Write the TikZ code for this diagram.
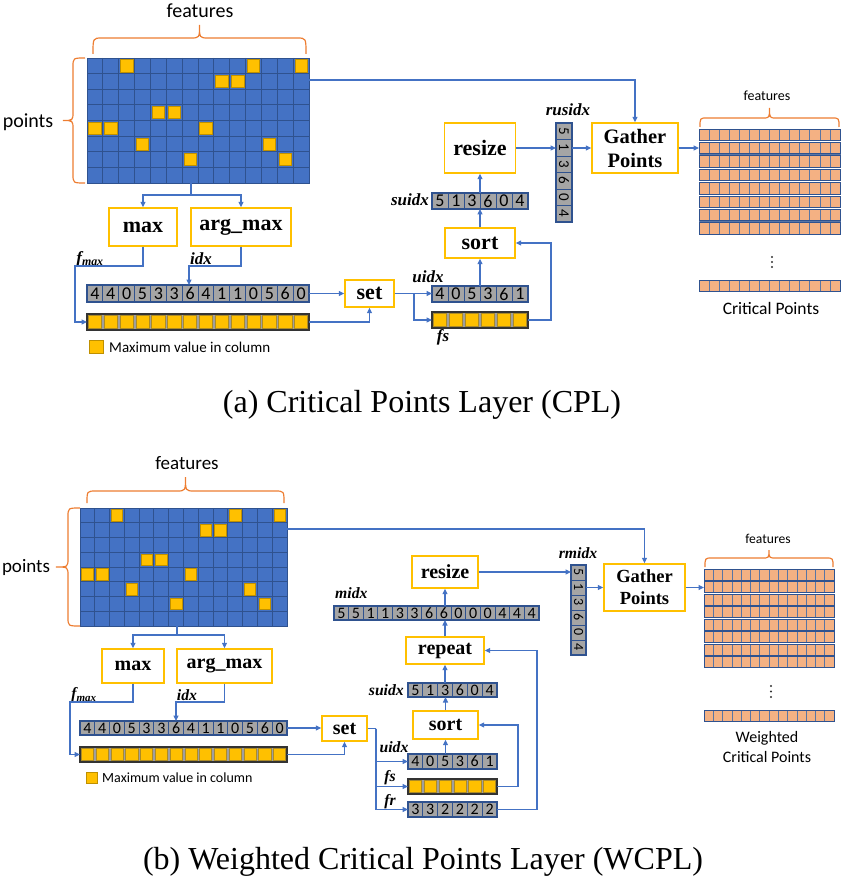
\documentclass[tikz,border=0pt]{standalone}
\usepackage{fontspec}
\setmainfont{Liberation Serif}
\newfontfamily\calib{Carlito}
\usetikzlibrary{arrows.meta,fit,calc}

\definecolor{blueC}{HTML}{4472C4}
\definecolor{blueD}{HTML}{2F528F}
\definecolor{gold}{HTML}{FFC000}
\definecolor{goldD}{HTML}{BF9000}
\definecolor{grayC}{HTML}{A5A5A5}
\definecolor{salmon}{HTML}{F4B183}
\definecolor{orangeC}{HTML}{ED7D31}
\definecolor{lineC}{HTML}{4472C4}

\newcommand\FS[1]{\fontsize{#1}{#1}\selectfont}

\tikzset{
  conn/.style={draw=lineC, line width=1.1pt},
  arr/.style={conn, -{Triangle[length=5.5pt,width=5pt]}},
  opbox/.style={draw=gold, line width=1.4pt, fill=white, inner sep=0pt, align=center, font=\bfseries\FS{#1}},
  sz/.style 2 args={minimum width=#1pt, minimum height=#2pt},
  txt/.style={inner sep=0pt, font=\calib\FS{#1}},
  mlab/.style={inner sep=0pt, font=\bfseries\itshape\FS{#1}},
  captext/.style={inner sep=0pt, font=\FS{32}},
  graycell/.style={draw=blueD, line width=0.9pt, fill=grayC},
  yelcell/.style={draw=goldD!70!gray, line width=0.6pt, fill=gold},
  salcell/.style={draw=blueD!80, line width=0.7pt, fill=salmon},
  arrout/.style={draw=blueD, line width=1.2pt},
  bracestyle/.style={draw=orangeC, line width=1.2pt},
}

% grid: name xl yt xr yb idxlist
\newcommand\Grid[6]{%
  \node[fit={(#2,#3) (#4,#5)}, inner sep=0pt, outer sep=0pt] (#1) {};
  \pgfmathsetmacro\myw{(#4-#2)/14}%
  \pgfmathsetmacro\myh{(#5-#3)/8}%
  \fill[blueC] (#2,#3) rectangle (#4,#5);
  \foreach \i in {1,...,13}{\draw[blueD, line width=0.9pt] ({#2+\i*\myw},#3) -- ({#2+\i*\myw},#5);}
  \foreach \j in {1,...,7}{\draw[blueD, line width=0.9pt] (#2,{#3+\j*\myh}) -- (#4,{#3+\j*\myh});}
  \draw[blueD, line width=0.9pt] (#2,#3) rectangle (#4,#5);
  \foreach \r [count=\c from 0] in {#6}{%
    \draw[draw=goldD, fill=gold, line width=0.6pt] ({#2+\c*\myw+1.7},{#3+\r*\myh+1.7}) rectangle ({#2+(\c+1)*\myw-1.7},{#3+(\r+1)*\myh-1.7});}
}
% digit array: name xl yt xr yb n digits fontsize
\newcommand\DigArr[8]{%
  \node[fit={(#2,#3) (#4,#5)}, inner sep=0pt, outer sep=0pt] (#1) {};
  \pgfmathsetmacro\myw{(#4-#2)/#6}%
  \foreach \d [count=\i from 0] in {#7}{%
    \draw[graycell] ({#2+\i*\myw},#3) rectangle ({#2+(\i+1)*\myw},#5);
    \node[txt=#8] at ({#2+(\i+0.5)*\myw},{(#3+#5)/2}) {\d};}
  \draw[arrout] (#2,#3) rectangle (#4,#5);
}
% empty yellow array: name xl yt xr yb n
\newcommand\YelArr[6]{%
  \node[fit={(#2,#3) (#4,#5)}, inner sep=0pt, outer sep=0pt] (#1) {};
  \pgfmathsetmacro\myw{(#4-#2)/#6}%
  \fill[gray!75] (#2,#3) rectangle (#4,#5);
  \foreach \i in {1,...,#6}{%
    \draw[yelcell] ({#2+(\i-1)*\myw+1.3},{#3+1.3}) rectangle ({#2+\i*\myw-1.3},{#5-1.3});}
  \draw[draw=gray!40!black, line width=1.2pt] (#2,#3) rectangle (#4,#5);
}
% vertical digit array: name xl yt xr yb n digits fontsize
\newcommand\VArr[8]{%
  \node[fit={(#2,#3) (#4,#5)}, inner sep=0pt, outer sep=0pt] (#1) {};
  \pgfmathsetmacro\myh{(#5-#3)/#6}%
  \foreach \d [count=\i from 0] in {#7}{%
    \draw[graycell] (#2,{#3+\i*\myh}) rectangle (#4,{#3+(\i+1)*\myh});
    \node[txt=#8, rotate=-90] at ({(#2+#4)/2},{#3+(\i+0.5)*\myh}) {\d};}
  \draw[arrout] (#2,#3) rectangle (#4,#5);
}
% critical rows: name xl yt xr rowh pitch lasty
\newcommand\CritRows[7]{%
  \pgfmathsetmacro\myw{(#4-#2)/14}%
  \foreach \r in {0,...,7}{%
    \pgfmathsetmacro\yy{#3+\r*#6}%
    \foreach \i in {0,...,13}{\draw[salcell] ({#2+\i*\myw},\yy) rectangle ({#2+(\i+1)*\myw},{\yy+#5});}
    \draw[blueD, line width=0.9pt] (#2,\yy) rectangle (#4,{\yy+#5});}
  \foreach \i in {0,...,13}{\draw[salcell] ({#2+\i*\myw},#7) rectangle ({#2+(\i+1)*\myw},{#7+#5});}
  \draw[blueD, line width=0.9pt] (#2,#7) rectangle (#4,{#7+#5});
  \node[fit={(#2,#3) (#4,{#7+#5})}, inner sep=0pt, outer sep=0pt] (#1) {};
}
% horizontal brace (tip up): x1 x2 yend yflat ytip r
\newcommand\HBrace[6]{%
  \pgfmathsetmacro\xm{(#1+#2)/2}%
  \draw[bracestyle] (#1,#3) .. controls (#1,#4) .. ({#1+#6},#4) -- ({\xm-#6},#4)
     .. controls (\xm,#4) .. (\xm,#5) .. controls (\xm,#4) .. ({\xm+#6},#4)
     -- ({#2-#6},#4) .. controls (#2,#4) .. (#2,#3);
}
% vertical brace (tip left): y1 y2 xend xflat xtip r
\newcommand\VBrace[6]{%
  \pgfmathsetmacro\ym{(#1+#2)/2}%
  \draw[bracestyle] (#3,#1) .. controls (#4,#1) .. (#4,{#1+#6}) -- (#4,{\ym-#6})
     .. controls (#4,\ym) .. (#5,\ym) .. controls (#4,\ym) .. (#4,{\ym+#6})
     -- (#4,{#2-#6}) .. controls (#4,#2) .. (#3,#2);
}

\begin{document}
\begin{tikzpicture}[x=1pt,y=-1pt]
\useasboundingbox (0,0) rectangle (845,885);

% ================= (a) =================
\Grid{gA}{87}{58}{309}{183}{4,4,0,5,3,3,6,4,1,1,0,5,6,0}
\HBrace{93}{306}{54}{38}{25}{9}
\VBrace{58}{183}{85}{73}{63}{9}
\node[txt=20] (featA) at (200,11) {features};
\node[txt=20] (ptsA) at (28,122) {points};

\node[opbox=22, sz={68}{38}] (maxA) at (143,227) {max};
\node[opbox=22, sz={100}{38}] (argA) at (241,227) {arg\_max};
\node[mlab=17] (fmaxA) at (90,259) {f\textsubscript{max}};
\node[mlab=17] (idxlA) at (201,259) {idx};

\DigArr{grayA}{87}{285}{309}{302}{14}{4,4,0,5,3,3,6,4,1,1,0,5,6,0}{18}
\YelArr{yelA}{87}{314}{309}{330}{14}
\draw[draw=goldD, fill=gold, line width=0.8pt] (89,340) rectangle (103,353);
\node[txt=15, anchor=west] (legA) at (109,347) {Maximum value in column};

\node[opbox=22, sz={49}{27}] (setA) at (369.5,293.5) {set};
\DigArr{uidxA}{432}{286}{528}{302}{6}{4,0,5,3,6,1}{18}
\YelArr{fsA}{432}{312}{528}{328}{6}
\node[mlab=17] (uidxlA) at (428,277) {uidx};
\node[mlab=17] (fslA) at (443,337) {fs};
\node[opbox=22, sz={70}{30}] (sortA) at (480,243) {sort};
\DigArr{suidxA}{432}{193}{528}{209}{6}{5,1,3,6,0,4}{18}
\node[mlab=17, anchor=east] (suidxlA) at (429,200) {suidx};
\node[opbox=22, sz={71}{50}] (resizeA) at (480,148) {resize};
\VArr{rusA}{556}{123}{572}{222}{6}{5,1,3,6,0,4}{15}
\node[mlab=17] (ruslA) at (568,110) {rusidx};
\node[opbox=20, sz={86}{50}, font=\bfseries\fontsize{20.5}{24}\selectfont] (gatherA) at (635,148) {Gather\\Points};

\CritRows{critA}{699}{129}{840}{11.5}{13.4}{280}
\HBrace{700}{839}{127}{118}{108}{7}
\node[txt=14] (featCA) at (767,96) {features};
\foreach \yy in {257,262,267}{\fill[black!80] (772,\yy) circle (1.2);}
\node[txt=17.5] (critlA) at (771,308) {Critical Points};

% connectors (a)
\coordinate (spA) at (191,195);
\draw[conn] (gA.south -| spA) -- (spA);
\draw[arr] (spA) -| (maxA.north);
\draw[arr] (spA) -| (argA.north);
\coordinate (fmA) at (75,266);
\draw[arr] (maxA.south) |- (fmA) |- (yelA.west);
\coordinate (idA) at (189,266);
\draw[arr] (argA.south) |- (idA) -- (idA |- grayA.north);
\draw[arr] (grayA.east) -- (setA.west);
\draw[arr] (yelA.east) -| (setA.south);
\coordinate (brA) at (414,293.5);
\draw[arr] (setA.east) -- (setA.east -| uidxA.west);
\draw[arr] (brA) |- (fsA.west);
\draw[arr] (uidxA.north) -- (sortA.south);
\draw[arr] (fsA.east) -- ++(23,0) |- (sortA.east);
\draw[arr] (sortA.north) -- (suidxA.south);
\draw[arr] (suidxA.north) -- (resizeA.south);
\draw[arr] (resizeA.east) -- (resizeA.east -| rusA.west);
\draw[arr] (gatherA.west -| rusA.east) -- (gatherA.west);
\draw[arr] (gatherA.east) -- (gatherA.east -| critA.west);
\coordinate (topA) at (635,80);
\draw[arr] (gA.east |- topA) -| (gatherA.north);

\node[captext] (capA) at (422,405) {(a) Critical Points Layer (CPL)};

% ================= (b) =================
\Grid{gB}{80}{508}{287}{626}{4,4,0,5,3,3,6,4,1,1,0,5,6,0}
\HBrace{87}{284}{503}{491}{477}{9}
\VBrace{508}{626}{80}{68}{56}{9}
\node[txt=19] (featB) at (187,463) {features};
\node[txt=19] (ptsB) at (26,567) {points};

\node[opbox=20, sz={62}{34}] (maxB) at (133,666) {max};
\node[opbox=20, sz={95}{34}] (argB) at (224.5,666) {arg\_max};
\node[mlab=15.7] (fmaxB) at (84,695) {f\textsubscript{max}};
\node[mlab=15.7] (idxlB) at (187,695) {idx};

\DigArr{grayB}{80}{721}{287}{735}{14}{4,4,0,5,3,3,6,4,1,1,0,5,6,0}{16}
\YelArr{yelB}{80}{747}{287}{762}{14}
\draw[draw=goldD, fill=gold, line width=0.8pt] (86,772) rectangle (97,783);
\node[txt=14, anchor=west] (legB) at (102,778) {Maximum value in column};

\node[opbox=20, sz={45}{25}] (setB) at (344.5,728.5) {set};
\DigArr{uidxB}{408}{754}{497}{769}{6}{4,0,5,3,6,1}{16}
\YelArr{fsB}{408}{779}{497}{794}{6}
\DigArr{frB}{408}{802}{497}{817}{6}{3,3,2,2,2,2}{16}
\node[mlab=15.7] (uidxlB) at (394,747) {uidx};
\node[mlab=15.7] (fslB) at (390,778) {fs};
\node[mlab=15.7] (frlB) at (390,802) {fr};
\node[opbox=20, sz={65}{28}] (sortB) at (445.5,725) {sort};
\DigArr{suidxB}{408}{683}{497}{697}{6}{5,1,3,6,0,4}{16}
\node[mlab=15.7, anchor=east] (suidxlB) at (404,690) {suidx};
\node[opbox=20, sz={78}{27}] (repeatB) at (445,650.5) {repeat};
\DigArr{midxB}{334}{606}{539}{620}{14}{5,5,1,1,3,3,6,6,0,0,0,4,4,4}{16}
\node[mlab=15.7, anchor=west] (midxlB) at (335,593) {midx};
\node[opbox=20, sz={66}{32}] (resizeB) at (445,572) {resize};
\VArr{rmidB}{571}{565}{586}{655}{6}{5,1,3,6,0,4}{14}
\node[mlab=15.7] (rmidlB) at (578,553) {rmidx};
\node[opbox=18, sz={81}{47}, font=\bfseries\fontsize{18.5}{22}\selectfont] (gatherB) at (644.5,587.5) {Gather\\Points};

\CritRows{critB}{704}{569}{834}{11}{12.5}{710}
\HBrace{705}{833}{567}{558}{550}{7}
\node[txt=13.6] (featCB) at (768,539) {features};
\foreach \yy in {686,691.5,697}{\fill[black!80] (771,\yy) circle (1.2);}
\node[txt=16, align=center, font=\calib\fontsize{16}{20}\selectfont] (critlB) at (767,747) {Weighted\\Critical Points};

% connectors (b)
\coordinate (spB) at (177,635);
\draw[conn] (gB.south -| spB) -- (spB);
\draw[arr] (spB) -| (maxB.north);
\draw[arr] (spB) -| (argB.north);
\coordinate (fmB) at (70,702);
\draw[arr] (maxB.south) |- (fmB) |- (yelB.west);
\coordinate (idB) at (176,702);
\draw[arr] (argB.south) |- (idB) -- (idB |- grayB.north);
\draw[arr] (grayB.east) -- (grayB.east -| setB.west);
\draw[arr] (yelB.east) -| (setB.south);
\coordinate (brB) at (376,728.5);
\draw[conn] (setB.east) -- (brB);
\draw[arr] (brB) |- (uidxB.west);
\draw[arr] (brB) |- (fsB.west);
\draw[arr] (brB) |- (frB.west);
\draw[arr] (uidxB.north -| sortB.south) -- (sortB.south);
\draw[arr] (fsB.east) -- ++(21,0) |- (sortB.east);
\draw[arr] (frB.east) -- ++(40,0) |- (repeatB.east);
\draw[arr] (sortB.north) -- (sortB.north |- suidxB.south);
\draw[arr] (repeatB.south |- suidxB.north) -- (repeatB.south);
\draw[arr] (repeatB.north) -- (repeatB.north |- midxB.south);
\draw[arr] (resizeB.south |- midxB.north) -- (resizeB.south);
\draw[arr] (resizeB.east) -- (resizeB.east -| rmidB.west);
\draw[arr] (gatherB.west -| rmidB.east) -- (gatherB.west);
\draw[arr] (gatherB.east) -- (gatherB.east -| critB.west);
\coordinate (topB) at (644.5,529);
\draw[arr] (gB.east |- topB) -| (gatherB.north);

\node[captext] (capB) at (423,862) {(b) Weighted Critical Points Layer (WCPL)};
\end{tikzpicture}
\end{document}
